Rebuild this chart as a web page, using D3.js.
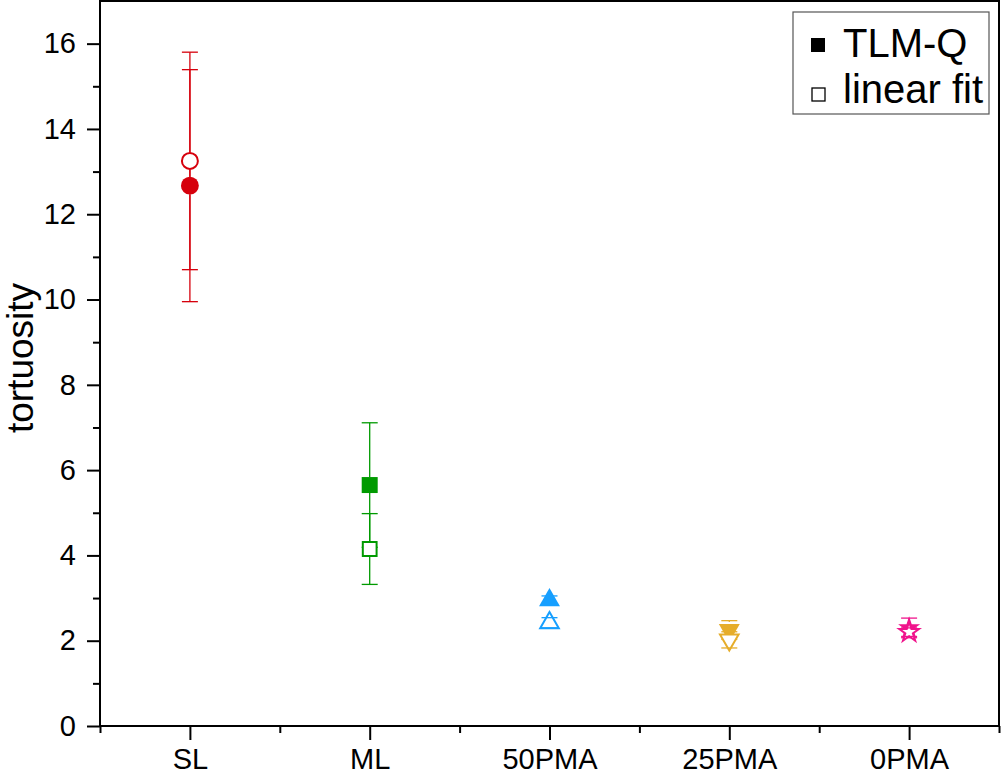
<html>
<head>
  <meta charset="utf-8" />
  <script src="https://cdnjs.cloudflare.com/ajax/libs/d3/7.8.5/d3.min.js"></script>
  <style>
    body { margin: 0; background: #fff; }
    svg { font-family: "Liberation Sans", Arial, sans-serif; }
  </style>
</head>
<body>
  <svg width="1001" height="774"></svg>
  <script>
  // categories and values
  const categories = ["SL", "ML", "50PMA", "25PMA", "0PMA"]
  const tlmq       = [12.67, 5.65, 2.95, 2.25, 2.30]
  const tlmqErr    = [2.72, 1.46, 0.10, 0.22, 0.23]
  const linfit     = [13.25, 4.15, 2.42, 2.02, 2.20]
  const linfitErr  = [2.55, 0.83, 0.12, 0.19, 0.10]
  const colors     = ["#d6000c", "#009a00", "#169fff", "#e6ad2a", "#f0148c"]
  const yTicks     = [0, 2, 4, 6, 8, 10, 12, 14, 16]

  const svg = d3.select("svg")
  const mLeft = 100, mRight = 999, mTop = 1, mBottom = 726

  const xScale = d3.scaleLinear().domain([0.5, 5.5]).range([mLeft, mRight])
  const yScale = d3.scaleLinear().domain([0, 17]).range([mBottom, mTop])

  // symbol per category, half height used to leave the stem out of the marker
  const symbols = [
    {type: d3.symbolCircle, size: 250, open: 200, rot: 0, half: 9},
    {type: d3.symbolSquare, size: 256, open: 190, rot: 0, half: 8},
    {type: d3.symbolTriangle, size: 190, open: 150, rot: 0, half: 8},
    {type: d3.symbolTriangle, size: 190, open: 150, rot: 180, half: 8},
    {type: d3.symbolStar, size: 150, open: 120, rot: 0, half: 8}
  ]

  const stems = svg.append("g"), capsBelow = svg.append("g")
  const marks = svg.append("g"), capsAbove = svg.append("g")

  function errorBars(vals, errs, capLayer) {
    vals.forEach((v, i) => {
      const cx = xScale(i + 1), cy = yScale(v), c = colors[i], h = symbols[i].half
      const y1 = yScale(v + errs[i]), y2 = yScale(v - errs[i])
      if (y1 < cy - h)
        stems.append("line").attr("x1", cx).attr("x2", cx).attr("y1", y1).attr("y2", cy - h)
          .attr("stroke", c).attr("stroke-width", 1.3)
      if (y2 > cy + h)
        stems.append("line").attr("x1", cx).attr("x2", cx).attr("y1", cy + h).attr("y2", y2)
          .attr("stroke", c).attr("stroke-width", 1.3)
      ;[y1, y2].forEach(y => {
        capLayer.append("line").attr("x1", cx - 8).attr("x2", cx + 8).attr("y1", y).attr("y2", y)
          .attr("stroke", c).attr("stroke-width", 1.3)
      })
    })
  }
  errorBars(tlmq, tlmqErr, capsBelow)
  errorBars(linfit, linfitErr, capsAbove)

  function markers(vals, filled) {
    marks.append("g").selectAll("path")
      .data(vals)
      .enter()
      .append("path")
        .attr("d", (d, i) => d3.symbol().type(symbols[i].type).size(filled ? symbols[i].size : symbols[i].open)())
        .attr("transform", (d, i) => `translate(${xScale(i + 1)},${yScale(d)}) rotate(${symbols[i].rot})`)
        .attr("fill", (d, i) => filled ? colors[i] : "#fff")
        .attr("stroke", (d, i) => colors[i])
        .attr("stroke-width", filled ? 0 : 2)
  }
  markers(tlmq, true)
  markers(linfit, false)

  // axes
  const yAxis = d3.axisLeft(yScale).tickValues(yTicks).tickSize(13).tickPadding(11)
  const yMinor = d3.axisLeft(yScale).tickValues(d3.range(1, 17, 2)).tickSize(7).tickFormat("")
  const xAxis = d3.axisBottom(xScale).tickValues([1, 2, 3, 4, 5])
                  .tickFormat(d => categories[d - 1]).tickSize(14).tickPadding(8)
  const xMinor = d3.axisBottom(xScale).tickValues([0.5, 1.5, 2.5, 3.5, 4.5, 5.5]).tickSize(7).tickFormat("")

  function styleAxis(g) {
    g.selectAll("path.domain").remove()
    g.selectAll("line").attr("stroke", "#000").attr("stroke-width", 2)
    g.selectAll("text").attr("fill", "#000").style("font-size", "29px")
      .style("font-family", "'Liberation Sans', Arial, sans-serif")
  }
  svg.append("g").attr("transform", `translate(${mLeft},0)`).call(yAxis).call(styleAxis)
  svg.append("g").attr("transform", `translate(${mLeft},0)`).call(yMinor).call(styleAxis)
  svg.append("g").attr("transform", `translate(0,${mBottom})`).call(xAxis).call(styleAxis)
  svg.append("g").attr("transform", `translate(0,${mBottom})`).call(xMinor).call(styleAxis)

  // frame
  svg.append("rect")
    .attr("x", mLeft).attr("y", mTop)
    .attr("width", mRight - mLeft).attr("height", mBottom - mTop)
    .attr("fill", "none").attr("stroke", "#000").attr("stroke-width", 2)

  // y label
  svg.append("text")
    .attr("transform", "translate(33,358) rotate(-90)")
    .attr("text-anchor", "middle")
    .style("font-size", "37px")
    .text("tortuosity")

  // legend
  const lg = svg.append("g")
  lg.append("rect").attr("x", 793).attr("y", 12).attr("width", 196).attr("height", 102)
    .attr("fill", "#fff").attr("stroke", "#555").attr("stroke-width", 1.2)
  lg.append("rect").attr("x", 811).attr("y", 38).attr("width", 14).attr("height", 14).attr("fill", "#000")
  lg.append("rect").attr("x", 812).attr("y", 88).attr("width", 13).attr("height", 13)
    .attr("fill", "#fff").attr("stroke", "#000").attr("stroke-width", 1.3)
  lg.append("text").attr("x", 843).attr("y", 57).style("font-size", "40px").text("TLM-Q")
  lg.append("text").attr("x", 843).attr("y", 103).style("font-size", "40px").text("linear fit")
  </script>
</body>
</html>
